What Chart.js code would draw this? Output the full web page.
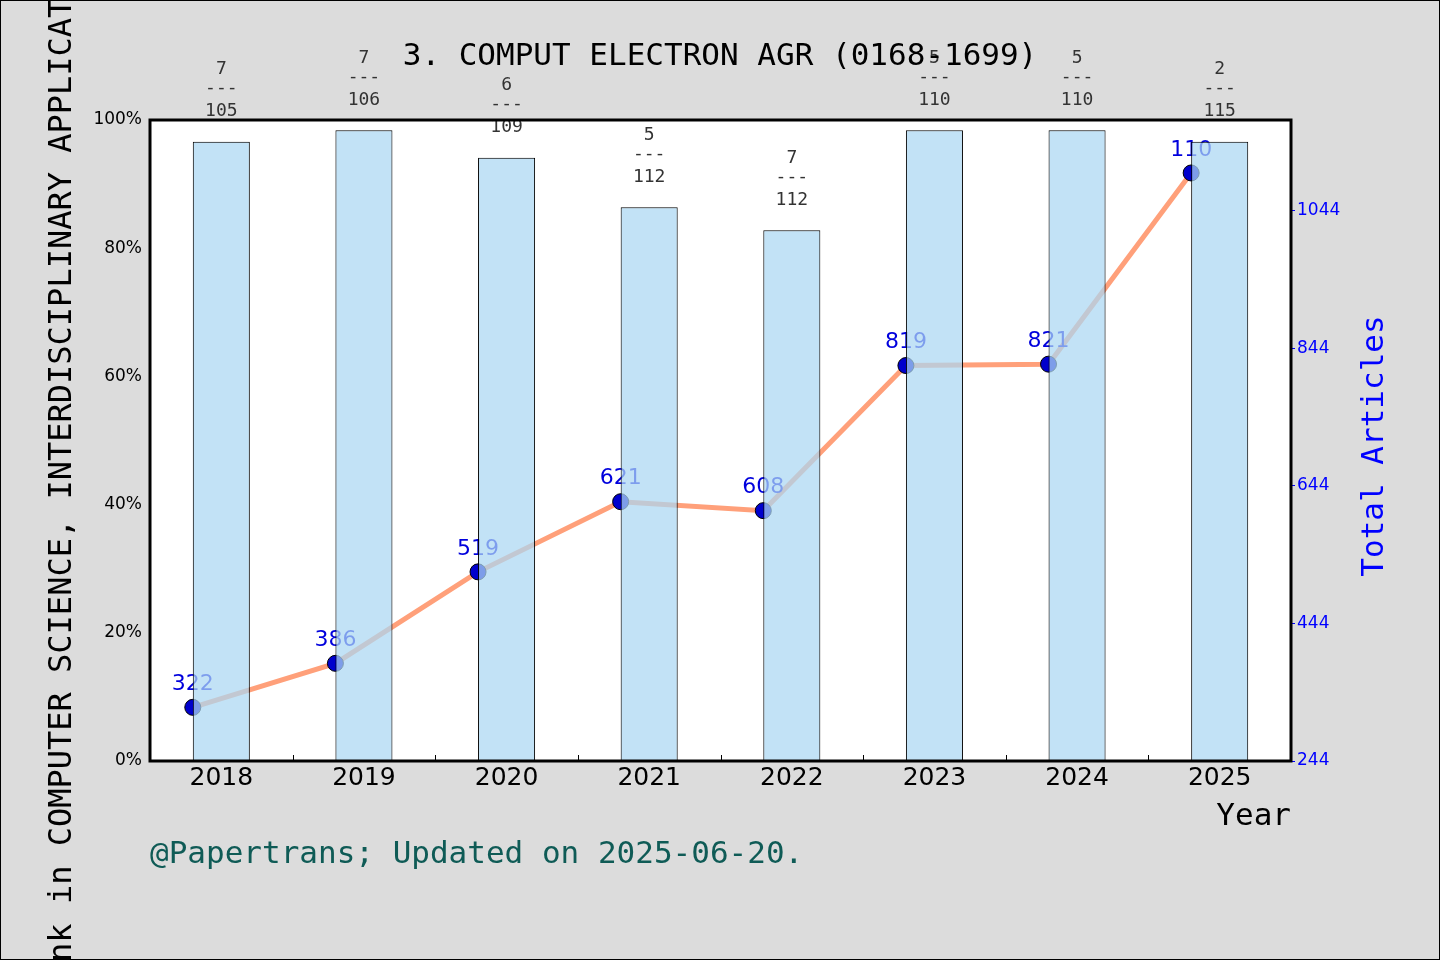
<!DOCTYPE html>
<html><head><meta charset="utf-8">
<script src="https://cdn.jsdelivr.net/npm/chart.js@4/dist/chart.umd.min.js"></script>
<style>html,body{margin:0;padding:0;background:#dcdcdc;}canvas{display:block;}</style>
</head><body>
<canvas id="c" width="1440" height="960"></canvas>
<script>
// ---- data ----
const years = ['2018','2019','2020','2021','2022','2023','2024','2025'];
const rankShare = [0.966, 0.984, 0.941, 0.864, 0.828, 0.984, 0.984, 0.966];
const ranks = ['7','7','6','5','7','5','5','2'];
const totals = ['105','106','109','112','112','110','110','115'];
const articles = [322, 386, 519, 621, 608, 819, 821, 1099];
const articleLabels = ['322','386','519','621','608','819','821','110'];
const leftTicks = [0, 0.2, 0.4, 0.6, 0.8, 1.0];
const rightTicks = [244, 444, 644, 844, 1044];
const rightMin = 244, rightMax = 1176;
const titleText = '3. COMPUT ELECTRON AGR (0168-1699)';
const leftTitle = 'Rank in COMPUTER SCIENCE, INTERDISCIPLINARY APPLICATIONS';
const rightTitle = 'Total Articles';
const xTitle = 'Year';
const footer = '@Papertrans; Updated on 2025-06-20.';

// ---- style ----
const BAR_FRAC = 0.4;
const MONO = '"DejaVu Sans Mono", monospace';
const SANS = '"DejaVu Sans", sans-serif';

const decor = {
  id: 'decor',
  beforeDraw(chart) {
    const {ctx, chartArea: a} = chart;
    ctx.save();
    ctx.fillStyle = '#dcdcdc';
    ctx.fillRect(0, 0, chart.width, chart.height);
    ctx.fillStyle = '#ffffff';
    ctx.fillRect(a.left, a.top, a.right - a.left, a.bottom - a.top);
    ctx.restore();
  },
  afterDatasetDraw(chart, args) {
    if (args.index !== 1) return;
    const {ctx} = chart;
    const meta = chart.getDatasetMeta(1);
    ctx.save();
    ctx.font = '22px ' + SANS;
    ctx.fillStyle = '#0000dd';
    ctx.textAlign = 'center';
    ctx.textBaseline = 'middle';
    meta.data.forEach((p, i) => ctx.fillText(articleLabels[i], p.x, p.y - 23));
    ctx.restore();
  },
  afterDatasetsDraw(chart) {
    const {ctx, chartArea: a} = chart;
    const bars = chart.getDatasetMeta(0).data;
    ctx.save();
    ctx.font = '18px ' + MONO;
    ctx.fillStyle = '#333333';
    ctx.textAlign = 'center';
    ctx.textBaseline = 'middle';
    bars.forEach((b, i) => {
      ctx.fillText(totals[i], b.x, b.y - 30);
      ctx.fillText('---', b.x, b.y - 53);
      ctx.fillText(ranks[i], b.x, b.y - 72);
    });
    // inner minor ticks at category boundaries
    const xs = chart.scales.x;
    ctx.strokeStyle = '#000';
    ctx.lineWidth = 1;
    for (let i = 0; i < years.length - 1; i++) {
      const px = Math.round((xs.getPixelForValue(i) + xs.getPixelForValue(i + 1)) / 2) + 0.5;
      ctx.beginPath();
      ctx.moveTo(px, a.bottom);
      ctx.lineTo(px, a.bottom - 6);
      ctx.stroke();
    }
    // frame
    ctx.lineWidth = 3;
    ctx.strokeStyle = '#000';
    ctx.strokeRect(a.left, a.top, a.right - a.left, a.bottom - a.top);
    ctx.restore();
  },
  afterDraw(chart) {
    const {ctx, chartArea: a} = chart;
    ctx.save();
    ctx.textBaseline = 'middle';
    ctx.font = '31px ' + MONO;
    ctx.fillStyle = '#000';
    ctx.textAlign = 'center';
    ctx.fillText(titleText, chart.width / 2, 57);
    ctx.textAlign = 'right';
    ctx.fillText(xTitle, a.right, 817);
    ctx.textAlign = 'left';
    ctx.fillStyle = '#0f5b56';
    ctx.fillText(footer, a.left, 855);
    ctx.save();
    ctx.translate(63, 461);
    ctx.rotate(-Math.PI / 2);
    ctx.textAlign = 'center';
    ctx.fillStyle = '#000';
    ctx.font = '32px ' + MONO;
    ctx.fillText(leftTitle, 0, 0);
    ctx.restore();
    ctx.save();
    ctx.translate(1375, 446);
    ctx.rotate(-Math.PI / 2);
    ctx.textAlign = 'center';
    ctx.fillStyle = '#0000ff';
    ctx.font = '31px ' + MONO;
    ctx.fillText(rightTitle, 0, 0);
    ctx.restore();
    ctx.strokeStyle = '#000';
    ctx.lineWidth = 1;
    ctx.strokeRect(0.5, 0.5, chart.width - 1, chart.height - 1);
    ctx.restore();
  }
};

new Chart(document.getElementById('c'), {
  data: {
    labels: years,
    datasets: [
      {
        type: 'bar', data: rankShare, xAxisID: 'x', yAxisID: 'y', grouped: false,
        backgroundColor: 'rgba(172,215,243,0.73)', borderColor: '#000', borderWidth: 1,
        borderSkipped: 'start', barPercentage: BAR_FRAC, categoryPercentage: 1, order: 0
      },
      {
        type: 'line', data: articles.map((v, i) => ({x: i - BAR_FRAC / 2, y: v})),
        xAxisID: 'xl', yAxisID: 'y2',
        borderColor: '#FFA07A', borderWidth: 5, tension: 0,
        pointRadius: 8, pointBackgroundColor: '#0000cd', pointBorderColor: '#000', pointBorderWidth: 1,
        order: 1
      }
    ]
  },
  options: {
    responsive: false, animation: false, devicePixelRatio: 1,
    layout: {padding: {top: 120, left: 0, right: 0, bottom: 0}},
    plugins: {legend: {display: false}, tooltip: {enabled: false}},
    scales: {
      x: {
        type: 'category', offset: true,
        grid: {display: false, drawTicks: false}, border: {display: false},
        ticks: {font: {family: SANS, size: 25}, color: '#000', padding: 2, maxRotation: 0, autoSkip: false},
        afterFit(s) { s.height = 199; }
      },
      xl: {type: 'linear', display: false, min: -0.5, max: years.length - 0.5},
      y: {
        position: 'left', min: 0, max: 1,
        grid: {display: false, drawTicks: false}, border: {display: false},
        ticks: {font: {family: SANS, size: 17}, color: '#000', padding: 8,
                callback: v => Math.round(v * 100) + '%'},
        afterBuildTicks(s) { s.ticks = leftTicks.map(v => ({value: v})); },
        afterFit(s) { s.width = 150; }
      },
      y2: {
        position: 'right', min: rightMin, max: rightMax,
        grid: {display: true, drawOnChartArea: false, drawTicks: true, tickLength: 4, tickColor: '#0000ff'},
        border: {display: false},
        ticks: {font: {family: SANS, size: 17}, color: '#0000ff', padding: 2, callback: v => String(v)},
        afterBuildTicks(s) { s.ticks = rightTicks.map(v => ({value: v})); },
        afterFit(s) { s.width = 149; }
      }
    }
  },
  plugins: [decor]
});
</script>
</body></html>
